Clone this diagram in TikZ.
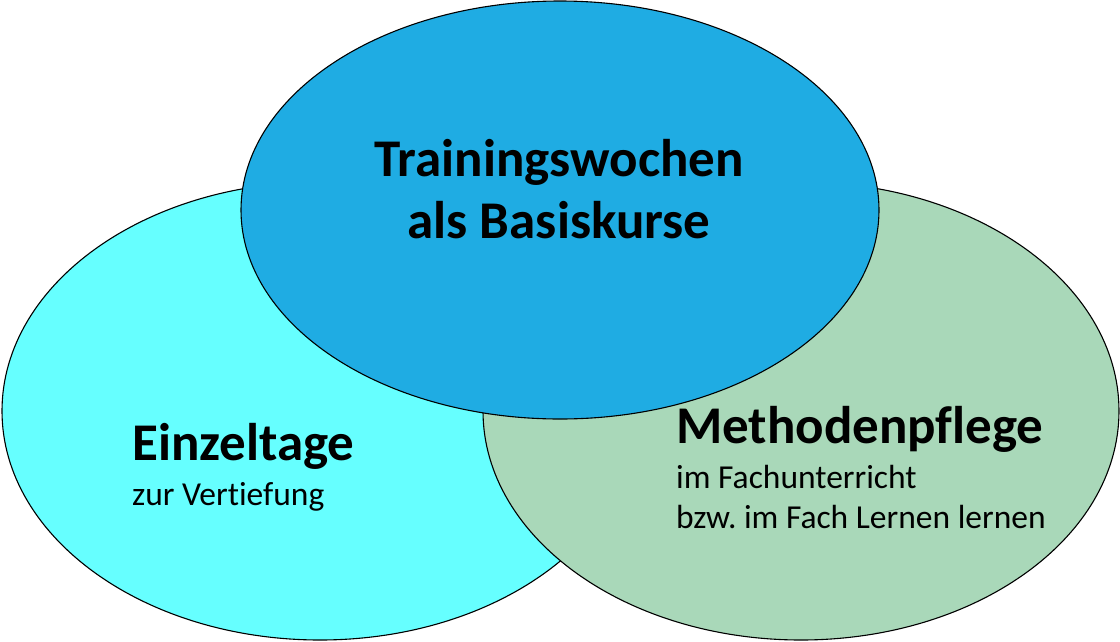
\documentclass[tikz,border=0pt]{standalone}
\usepackage{fontspec}
\setmainfont{Carlito}[Ligatures={NoCommon}]
\usetikzlibrary{shapes.geometric}
\definecolor{cyanfill}{RGB}{102,255,255}
\definecolor{bluefill}{RGB}{31,172,227}
\definecolor{greenfill}{RGB}{169,216,185}
\tikzset{
  blob/.style={ellipse, draw=black, line width=1.1pt, inner sep=0pt},
  head/.style={inner sep=0pt, font=\fontsize{53}{60}\selectfont\bfseries},
  sub/.style={inner sep=0pt, font=\fontsize{33.5}{38}\selectfont},
}
\begin{document}
\frenchspacing
\begin{tikzpicture}[x=1pt,y=-1pt]
\useasboundingbox (0,0) rectangle (1120,641);
\node[blob, fill=cyanfill, minimum width=636pt, minimum height=458pt] (left) at (320,411) {};
\node[blob, fill=greenfill, minimum width=636pt, minimum height=458pt] (right) at (801,411) {};
\node[blob, fill=bluefill, minimum width=638pt, minimum height=418pt] (top) at (560,210) {};
\node[head, anchor=base] (t1) at (559,176) {Trainingswochen};
\node[head, anchor=base] (t2) at (559,238) {als Basiskurse};
\node[head, anchor=base west] (e1) at (132,460) {Einzeltage};
\node[sub, anchor=base west] (e2) at (132,505) {zur Vertiefung};
\node[head, anchor=base west] (m1) at (676,443) {Methodenpflege};
\node[sub, anchor=base west] (m2) at (676,488) {im Fachunterricht};
\node[sub, anchor=base west] (m3) at (676,528) {bzw.\ im Fach Lernen lernen};
\end{tikzpicture}
\end{document}
